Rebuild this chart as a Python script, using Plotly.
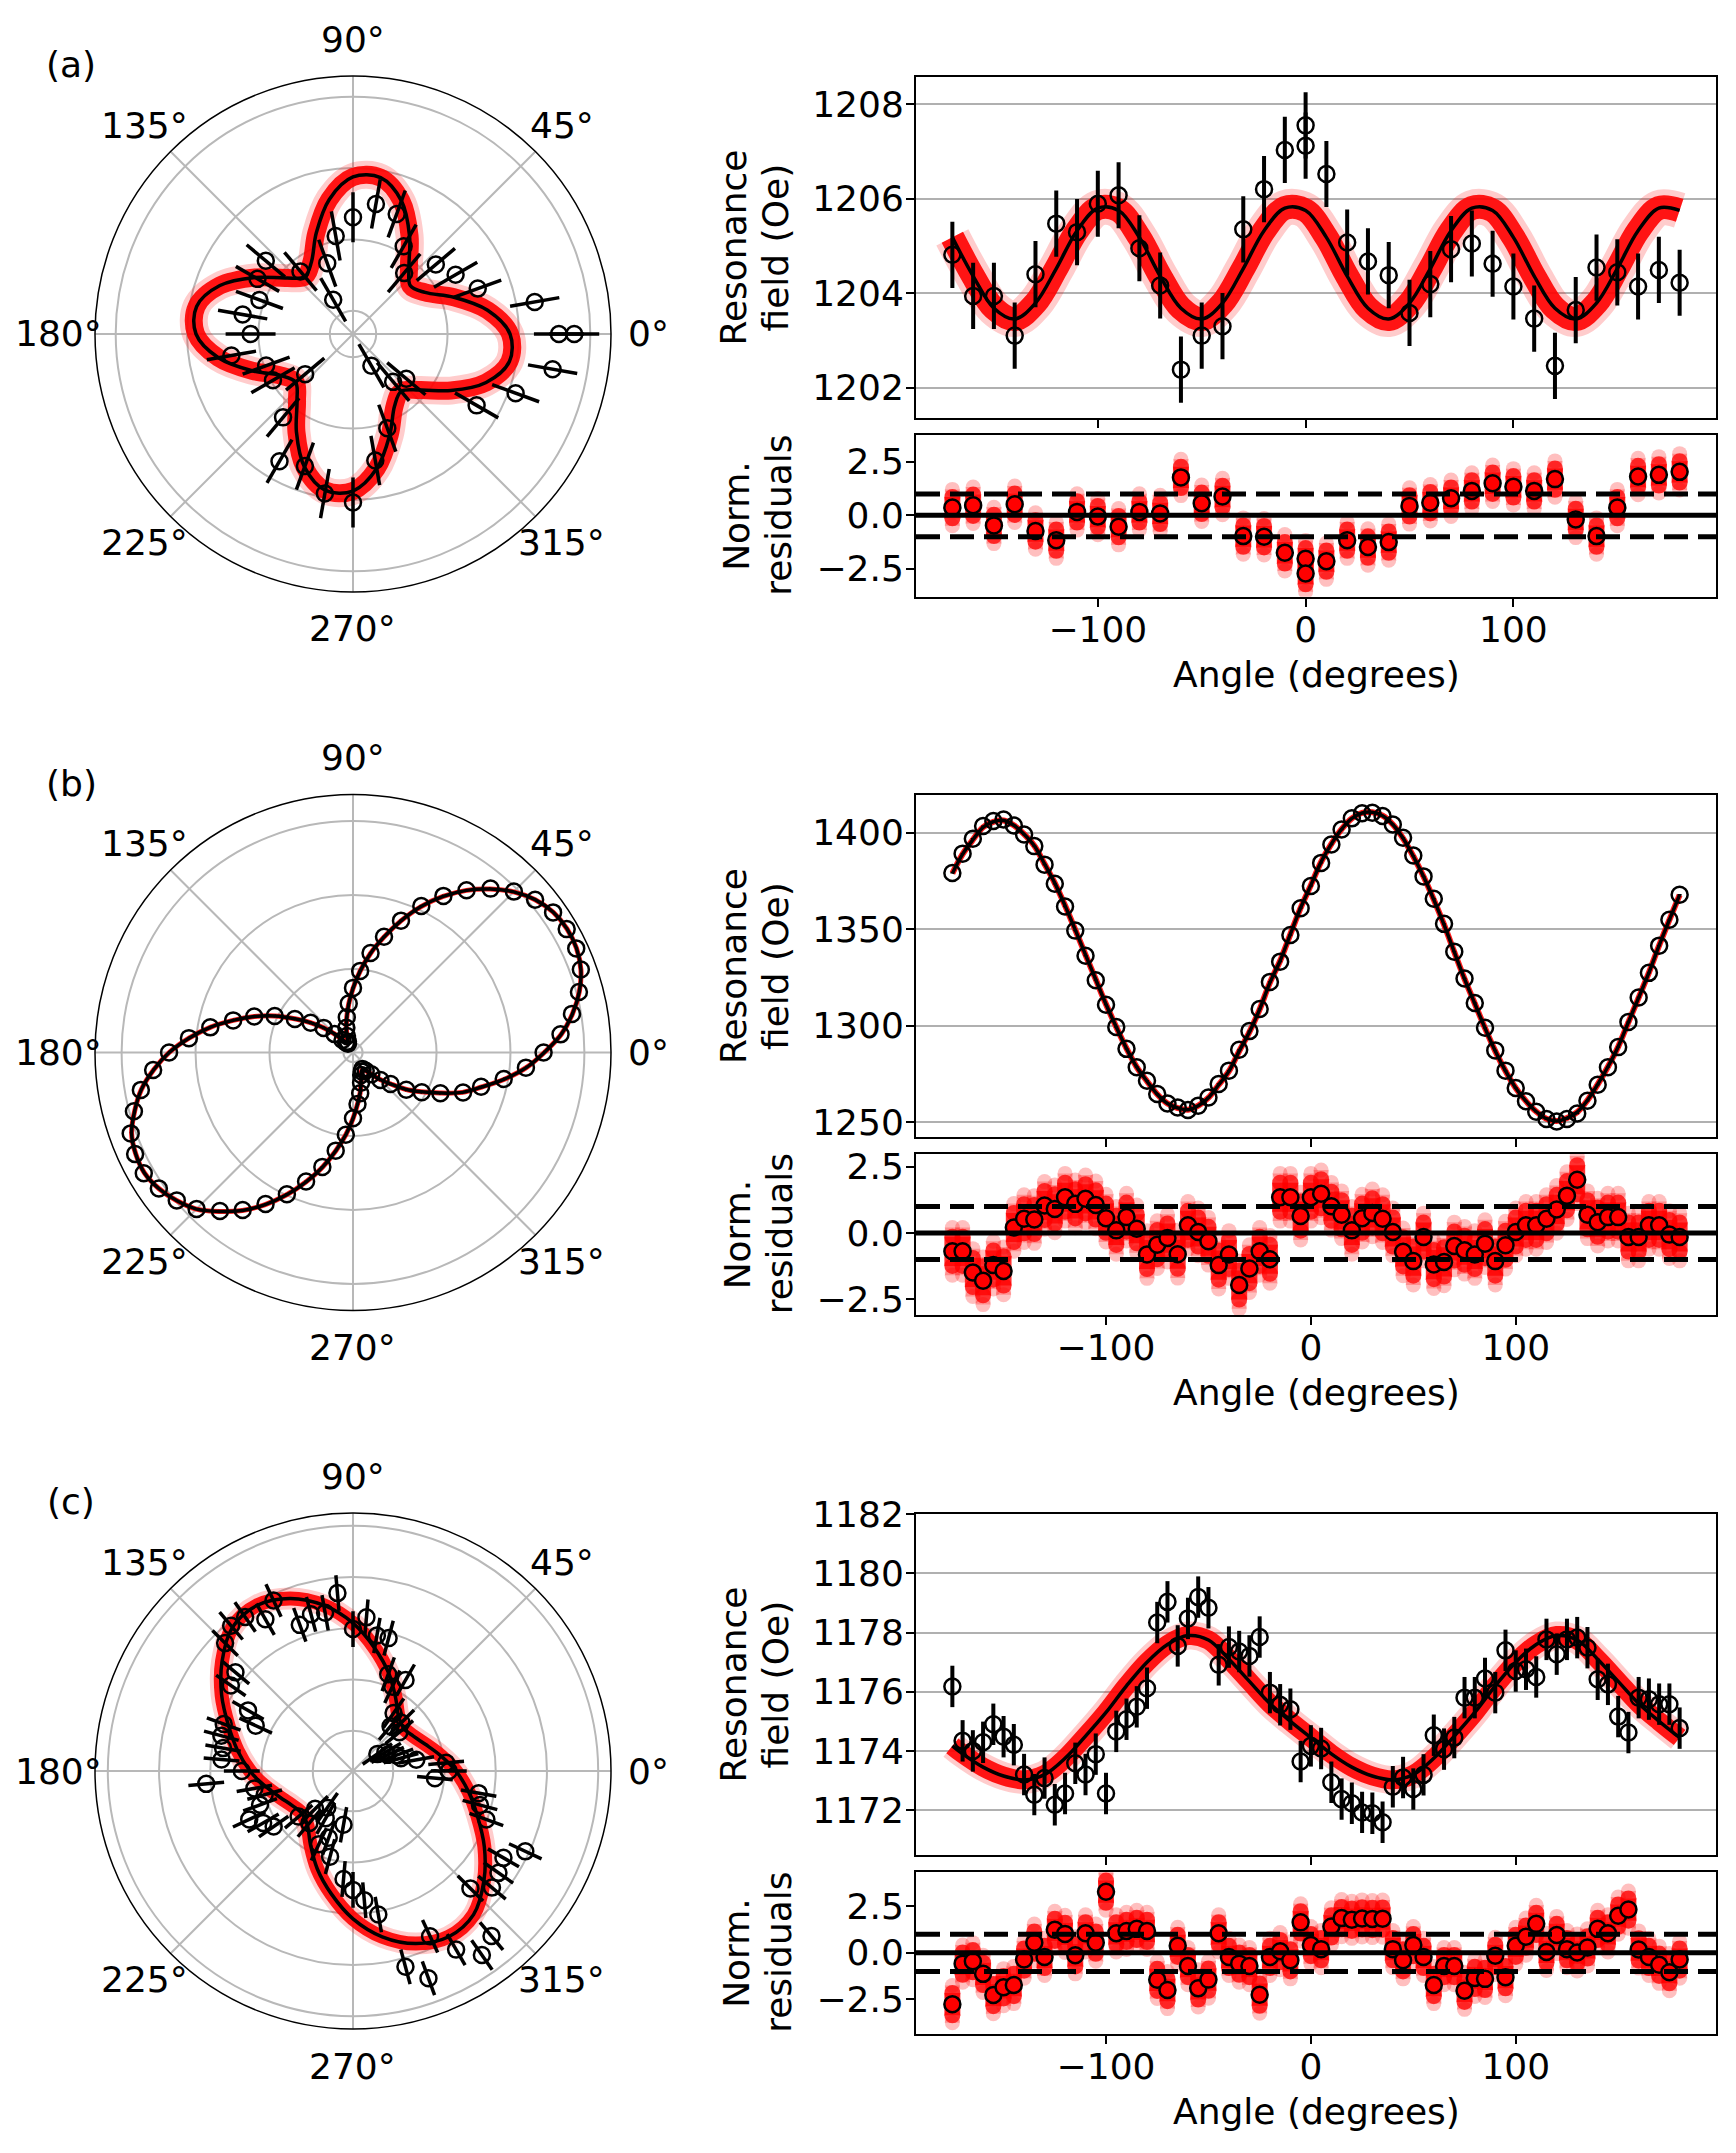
import math
import plotly.graph_objects as go

W, H = 1736, 2153
FONT = "DejaVu Sans"
FS = 36
PAGE_PAD = 8  # default body margin of the html page

# ---------------- data: panel (a) ----------------
angles_a = [-170, -160, -150, -140, -130, -120, -110, -100, -90, -80, -70, -60,
            -50, -40, -30, -20, -10, 0, 0, 10, 20, 30, 40, 50, 60, 70, 80, 90,
            100, 110, 120, 130, 140, 150, 160, 170, 180]
field_a = [1204.81, 1203.94, 1203.94, 1203.10, 1204.40, 1205.47, 1205.29, 1205.89,
           1206.07, 1204.95, 1204.16, 1202.38, 1203.10, 1203.30, 1205.35, 1206.20,
           1207.03, 1207.12, 1207.55, 1206.52, 1205.07, 1204.67, 1204.38, 1203.58,
           1204.19, 1204.93, 1205.05, 1204.62, 1204.14, 1203.46, 1202.46, 1203.64,
           1204.54, 1204.44, 1204.14, 1204.49, 1204.22]
resid_a = [0.36, 0.47, -0.47, 0.52, -0.73, -1.16, 0.16, -0.06, -0.53, 0.16, 0.09,
           1.77, 0.56, 0.88, -0.97, -1.00, -1.75, -2.03, -2.72, -2.14, -1.16, -1.48,
           -1.25, 0.44, 0.59, 0.80, 1.14, 1.50, 1.33, 1.14, 1.69, -0.19, -0.97, 0.36,
           1.81, 1.89, 2.03]
ERR_A = 0.7
fit_angles_a = [-170, -160, -150, -140, -130, -120, -110, -100, -90, -80, -70, -60,
                -50, -40, -30, -20, -10, 0, 10, 20, 30, 40, 50, 60, 70, 80, 90, 100,
                110, 120, 130, 140, 150, 160, 170, 180]
fit_a = [1205.18, 1204.36, 1203.68, 1203.45, 1203.79, 1204.52, 1205.32, 1205.80,
         1205.75, 1205.18, 1204.36, 1203.68, 1203.45, 1203.79, 1204.52, 1205.32,
         1205.80, 1205.75, 1205.18, 1204.36, 1203.68, 1203.45, 1203.79, 1204.52,
         1205.32, 1205.80, 1205.75, 1205.18, 1204.36, 1203.68, 1203.45, 1203.79,
         1204.52, 1205.32, 1205.80, 1205.75]

# ---------------- data: panels (b) and (c) share the angle grid ----------------
angles_bc = [-175, -170, -165, -160, -155, -150, -145, -140, -135, -130, -125, -120,
             -115, -110, -105, -100, -95, -90, -85, -80, -75, -70, -65, -60, -55,
             -50, -45, -40, -35, -30, -25, -20, -15, -10, -5, 0, 5, 10, 15, 20, 25,
             30, 35, 40, 45, 50, 55, 60, 65, 70, 75, 80, 85, 90, 95, 100, 105, 110,
             115, 120, 125, 130, 135, 140, 145, 150, 155, 160, 165, 170, 175, 180]

field_b = [1379.2, 1389.2, 1396.9, 1403.5, 1406.1, 1406.9, 1403.8, 1399.1, 1393.1, 1383.5,
           1373.6, 1361.8, 1349.3, 1336.3, 1323.6, 1310.9, 1299.3, 1288.0, 1278.5, 1271.5,
           1264.6, 1259.7, 1257.6, 1256.3, 1258.5, 1262.8, 1269.8, 1276.7, 1287.5, 1297.2,
           1308.7, 1322.7, 1333.2, 1347.0, 1360.9, 1372.4, 1384.4, 1393.9, 1401.7, 1407.5,
           1410.1, 1410.4, 1408.7, 1404.3, 1397.4, 1388.2, 1377.4, 1365.8, 1352.8, 1338.4,
           1324.5, 1311.8, 1298.9, 1287.2, 1276.7, 1267.7, 1260.8, 1255.4, 1251.6, 1250.3,
           1251.6, 1254.5, 1261.1, 1269.4, 1278.5, 1288.9, 1301.9, 1314.6, 1327.4, 1341.5,
           1354.9, 1367.9]
resid_b = [-0.69, -0.69, -1.49, -1.80, -1.21, -1.43, 0.21, 0.54, 0.51, 1.04,
           0.91, 1.35, 1.10, 1.29, 1.06, 0.56, 0.10, 0.60, 0.16, -0.81,
           -0.44, -0.19, -0.80, 0.29, 0.04, -0.31, -1.21, -0.81, -1.96, -1.34,
           -0.69, -0.99, 1.35, 1.35, 0.64, 1.35, 1.48, 1.01, 0.69, 0.10,
           0.56, 0.76, 0.54, 0.04, -0.71, -1.06, -0.15, -1.19, -1.09, -0.49,
           -0.65, -0.81, -0.40, -1.06, -0.46, 0.04, 0.29, 0.29, 0.54, 0.89,
           1.41, 2.01, 0.69, 0.41, 0.60, 0.60, -0.15, -0.15, 0.29, 0.29,
           -0.06, -0.15]
ERR_B = 0.35

field_c = [1176.18, 1174.34, 1174.00, 1174.29, 1174.90, 1174.48, 1174.21, 1173.20, 1172.52, 1173.08,
           1172.18, 1172.56, 1173.58, 1173.20, 1173.89, 1172.56, 1174.66, 1175.07, 1175.49, 1176.12,
           1178.34, 1179.04, 1177.55, 1178.48, 1179.20, 1178.84, 1176.91, 1177.51, 1177.36, 1177.21,
           1177.85, 1175.97, 1175.56, 1175.41, 1173.64, 1174.17, 1174.08, 1172.94, 1172.37, 1172.23,
           1171.92, 1171.89, 1171.59, 1172.79, 1173.10, 1172.71, 1173.19, 1174.53, 1174.06, 1174.45,
           1175.80, 1175.80, 1176.45, 1175.97, 1177.40, 1176.70, 1176.76, 1176.50, 1177.77, 1177.27,
           1177.77, 1177.83, 1177.49, 1176.42, 1176.25, 1175.16, 1174.62, 1175.80, 1175.75, 1175.58,
           1175.58, 1174.77]
resid_c = [-2.76, -0.58, -0.45, -1.13, -2.27, -1.85, -1.73, -0.36, 0.55, -0.22,
           1.24, 1.02, -0.13, 1.05, 0.55, 3.29, 1.05, 1.18, 1.29, 1.18,
           -1.45, -2.00, 0.38, -0.71, -1.91, -1.44, 1.05, -0.22, -0.58, -0.71,
           -2.25, -0.22, 0.09, -0.40, 1.64, 0.42, 0.20, 1.42, 1.87, 1.78,
           1.85, 1.82, 1.84, 0.20, -0.40, 0.42, -0.22, -1.73, -0.71, -0.71,
           -2.04, -1.35, -1.40, -0.16, -1.31, 0.38, 0.87, 1.56, 0.05, 0.96,
           0.20, 0.02, 0.29, 1.29, 1.05, 2.00, 2.33, 0.18, -0.22, -0.64,
           -1.04, -0.36]
ERR_C = 0.7
fit_angles_c = [-175, -170, -160, -150, -140, -130, -120, -110, -100, -90, -80, -70,
                -60, -50, -40, -30, -20, -10, 0, 10, 20, 30, 40, 50, 60, 70, 80, 90,
                100, 110, 120, 130, 140, 150, 160, 170, 180]
fit_c = [1174.17, 1173.90, 1173.45, 1173.15, 1173.02, 1173.20, 1173.75, 1174.50, 1175.30,
         1176.20, 1177.00, 1177.60, 1177.90, 1177.75, 1177.10, 1176.35, 1175.60, 1175.00,
         1174.45, 1173.90, 1173.45, 1173.15, 1173.02, 1173.20, 1173.75, 1174.50, 1175.30,
         1176.20, 1177.00, 1177.60, 1177.90, 1177.75, 1177.10, 1176.35, 1175.60, 1175.00,
         1174.45]

# the fit of (b) sits right on the points: rebuild it from the residuals
fit_b = [f + r * ERR_B for f, r in zip(field_b, resid_b)]

polar_ticks = [0, 45, 90, 135, 180, 225, 270, 315]
polar_labels = ["0°", "45°", "90°", "135°", "180°", "225°", "270°", "315°"]

# ---------------- geometry (pixels of the page) ----------------
DY = 718.5
X0, X1 = 916, 1716
MAIN_T, MAIN_B = 76.7, 418.3
RES_T, RES_B = 435, 596.7
PC_X, PC_Y, PR = 353, 334, 258
LABEL_R = PR + 37


def px(x):
    return (x - PAGE_PAD) / W


def py(y):
    return 1 - (y - PAGE_PAD) / H


rows = [
    dict(label="(a)", ang=angles_a, field=field_a, err=ERR_A, resid=resid_a,
         fth=fit_angles_a, fr=fit_a, yr=[1201.35, 1208.58], yt=[1202, 1204, 1206, 1208],
         pr=[1201.35, 1208.58], xr=[-187.5, 197.5], rr=[-3.8, 3.75], spread=(0.5, 0.85),
         band=[(36, "rgba(255,0,0,0.2)"), (24, "rgba(255,0,0,0.9)")],
         pband=[(28, "rgba(255,0,0,0.2)"), (18, "rgba(255,0,0,0.9)")]),
    dict(label="(b)", ang=angles_bc, field=field_b, err=ERR_B, resid=resid_b,
         fth=angles_bc, fr=fit_b, yr=[1242.4, 1419.5], yt=[1250, 1300, 1350, 1400],
         pr=[1243.5, 1418.0], xr=[-192.75, 197.75], rr=[-3.1, 3.0], spread=(0.55, 0.9),
         band=[(6, "rgba(255,0,0,0.9)")], pband=[(5, "rgba(255,0,0,0.9)")]),
    dict(label="(c)", ang=angles_bc, field=field_c, err=ERR_C, resid=resid_c,
         fth=fit_angles_c, fr=fit_c, yr=[1170.47, 1182.02],
         yt=[1172, 1174, 1176, 1178, 1180, 1182],
         pr=[1170.43, 1180.5], xr=[-192.75, 197.75], rr=[-4.35, 4.35], spread=(0.6, 1.0),
         band=[(28, "rgba(255,0,0,0.2)"), (19, "rgba(255,0,0,0.9)")],
         pband=[(22, "rgba(255,0,0,0.2)"), (14, "rgba(255,0,0,0.9)")]),
]

fig = go.Figure()
layout = dict(width=W, height=H,
              margin=dict(l=0, r=0, t=0, b=0, pad=0, autoexpand=False),
              autosize=False,
              paper_bgcolor="white", plot_bgcolor="white", showlegend=False,
              font=dict(family=FONT, size=FS, color="black"))
annotations = []
shapes = []


def text_at(txt, x, y, angle=0):
    annotations.append(dict(text=txt, x=px(x), y=py(y), xref="paper", yref="paper",
                            showarrow=False, font=dict(size=FS), textangle=angle,
                            xanchor="center", yanchor="middle"))


for k, row in enumerate(rows):
    off = k * DY
    mx, my = ("x", "y") if k == 0 else ("x%d" % (2 * k + 1), "y%d" % (2 * k + 1))
    rx, ry = "x%d" % (2 * k + 2), "y%d" % (2 * k + 2)
    pol = "polar" if k == 0 else "polar%d" % (k + 1)

    # ---- main cartesian panel ----
    for w, c in row["band"]:
        fig.add_trace(go.Scatter(x=row["fth"], y=row["fr"], mode="lines",
                                 line=dict(color=c, width=w, shape="spline"),
                                 xaxis=mx, yaxis=my, hoverinfo="skip"))
    fig.add_trace(go.Scatter(x=row["fth"], y=row["fr"], mode="lines",
                             line=dict(color="black", width=3.5, shape="spline"),
                             xaxis=mx, yaxis=my))
    fig.add_trace(go.Scatter(x=row["ang"], y=row["field"], mode="markers",
                             marker=dict(symbol="circle-open", size=16, color="black",
                                         line=dict(width=2.5, color="black")),
                             error_y=dict(type="constant", value=row["err"], thickness=4,
                                          width=0, color="black"),
                             xaxis=mx, yaxis=my))

    # ---- residuals: spread of the samples drawn as a red smear ----
    s_in, s_out = row["spread"]
    for s, alpha, th in ((s_out, 0.25, 15), (s_in, 0.75, 16)):
        fig.add_trace(go.Scatter(x=row["ang"], y=row["resid"], mode="markers",
                                 marker=dict(size=1, color="rgba(255,0,0,0)"),
                                 error_y=dict(type="constant", value=s, thickness=th,
                                              width=0, color="rgba(255,0,0,%g)" % alpha),
                                 xaxis=rx, yaxis=ry, hoverinfo="skip"))
        for sign in (-1, 1):
            fig.add_trace(go.Scatter(x=row["ang"], y=[r + sign * s for r in row["resid"]],
                                     mode="markers",
                                     marker=dict(size=th, color="rgba(255,0,0,%g)" % alpha,
                                                 line=dict(width=0)),
                                     xaxis=rx, yaxis=ry, hoverinfo="skip"))
    fig.add_trace(go.Scatter(x=row["ang"], y=row["resid"], mode="markers",
                             marker=dict(size=16, color="red",
                                         line=dict(width=2.5, color="black")),
                             xaxis=rx, yaxis=ry))
    shapes.append(dict(type="line", xref="%s domain" % rx, yref=ry, x0=0, x1=1, y0=0, y1=0,
                       line=dict(color="black", width=5), layer="above"))
    for lvl in (-1, 1):
        shapes.append(dict(type="line", xref="%s domain" % rx, yref=ry, x0=0, x1=1,
                           y0=lvl, y1=lvl, layer="above",
                           line=dict(color="black", width=5, dash="24px,10px")))

    # ---- polar panel ----
    th_closed = row["fth"] + [row["fth"][0] + 360]
    r_closed = row["fr"] + [row["fr"][0]]
    for w, c in row["pband"]:
        fig.add_trace(go.Scatterpolar(theta=th_closed, r=r_closed, mode="lines",
                                      line=dict(color=c, width=w, shape="spline"),
                                      subplot=pol, hoverinfo="skip"))
    fig.add_trace(go.Scatterpolar(theta=th_closed, r=r_closed, mode="lines",
                                  line=dict(color="black", width=3.5, shape="spline"),
                                  subplot=pol))
    eb_r, eb_t = [], []
    for a, f in zip(row["ang"], row["field"]):
        eb_r += [f - row["err"], f + row["err"], None]
        eb_t += [a, a, None]
    fig.add_trace(go.Scatterpolar(theta=eb_t, r=eb_r, mode="lines",
                                  line=dict(color="black", width=3.5), subplot=pol,
                                  hoverinfo="skip"))
    fig.add_trace(go.Scatterpolar(theta=row["ang"], r=row["field"], mode="markers",
                                  marker=dict(symbol="circle-open", size=16, color="black",
                                              line=dict(width=2.5, color="black")),
                                  subplot=pol))

    # ---- axes ----
    mkey = "xaxis" if k == 0 else "xaxis%d" % (2 * k + 1)
    mykey = "yaxis" if k == 0 else "yaxis%d" % (2 * k + 1)
    frame = dict(showline=True, mirror=True, linecolor="black", linewidth=2,
                 zeroline=False, ticks="outside", ticklen=8, tickwidth=2,
                 tickcolor="black", automargin=False,
                 tickfont=dict(size=FS, family=FONT, color="black"))
    layout[mkey] = dict(domain=[px(X0), px(X1)], range=row["xr"], anchor=my,
                        tickvals=[-100, 0, 100], showticklabels=False, showgrid=False,
                        **frame)
    layout[mykey] = dict(domain=[py(MAIN_B + off), py(MAIN_T + off)], range=row["yr"],
                         anchor=mx, tickvals=row["yt"], showgrid=True,
                         gridcolor="#b0b0b0", gridwidth=2, ticklabelstandoff=-5, **frame)
    layout["xaxis%d" % (2 * k + 2)] = dict(domain=[px(X0), px(X1)], range=row["xr"],
                                           anchor=ry, tickvals=[-100, 0, 100],
                                           showgrid=False, ticklabelstandoff=-8, **frame)
    layout["yaxis%d" % (2 * k + 2)] = dict(domain=[py(RES_B + off), py(RES_T + off)],
                                           range=row["rr"], anchor=rx,
                                           tickvals=[-2.5, 0, 2.5], tickformat=".1f",
                                           showgrid=False, ticklabelstandoff=-5, **frame)
    cy = PC_Y + off
    layout[pol] = dict(
        domain=dict(x=[px(PC_X - PR), px(PC_X + PR)], y=[py(cy + PR), py(cy - PR)]),
        bgcolor="white",
        angularaxis=dict(direction="counterclockwise", rotation=0, tickmode="array",
                         tickvals=polar_ticks, showticklabels=False, showgrid=True,
                         gridcolor="#b8b8b8", gridwidth=1.5, showline=True,
                         linecolor="black", linewidth=1.5, ticks=""),
        radialaxis=dict(range=row["pr"], tickmode="array", tickvals=row["yt"],
                        showticklabels=False, ticks="", showline=False, showgrid=True,
                        gridcolor="#b8b8b8", gridwidth=1.5, angle=0),
    )

    # ---- texts: angular labels centred on a ring outside the polar frame ----
    for t, lab in zip(polar_ticks, polar_labels):
        text_at(lab, PC_X + LABEL_R * math.cos(math.radians(t)),
                cy - LABEL_R * math.sin(math.radians(t)))
    text_at(row["label"], 71, 64.7 + off)
    ym = (MAIN_T + MAIN_B) / 2 + off
    yres = (RES_T + RES_B) / 2 + off
    text_at("Resonance", 733, ym, -90)
    text_at("field (Oe)", 775, ym, -90)
    text_at("Norm.", 737, yres, -90)
    text_at("residuals", 779, yres, -90)
    text_at("Angle (degrees)", (X0 + X1) / 2, 674 + off)

layout["annotations"] = annotations
layout["shapes"] = shapes
fig.update_layout(**layout)
fig.write_html("out.html")
